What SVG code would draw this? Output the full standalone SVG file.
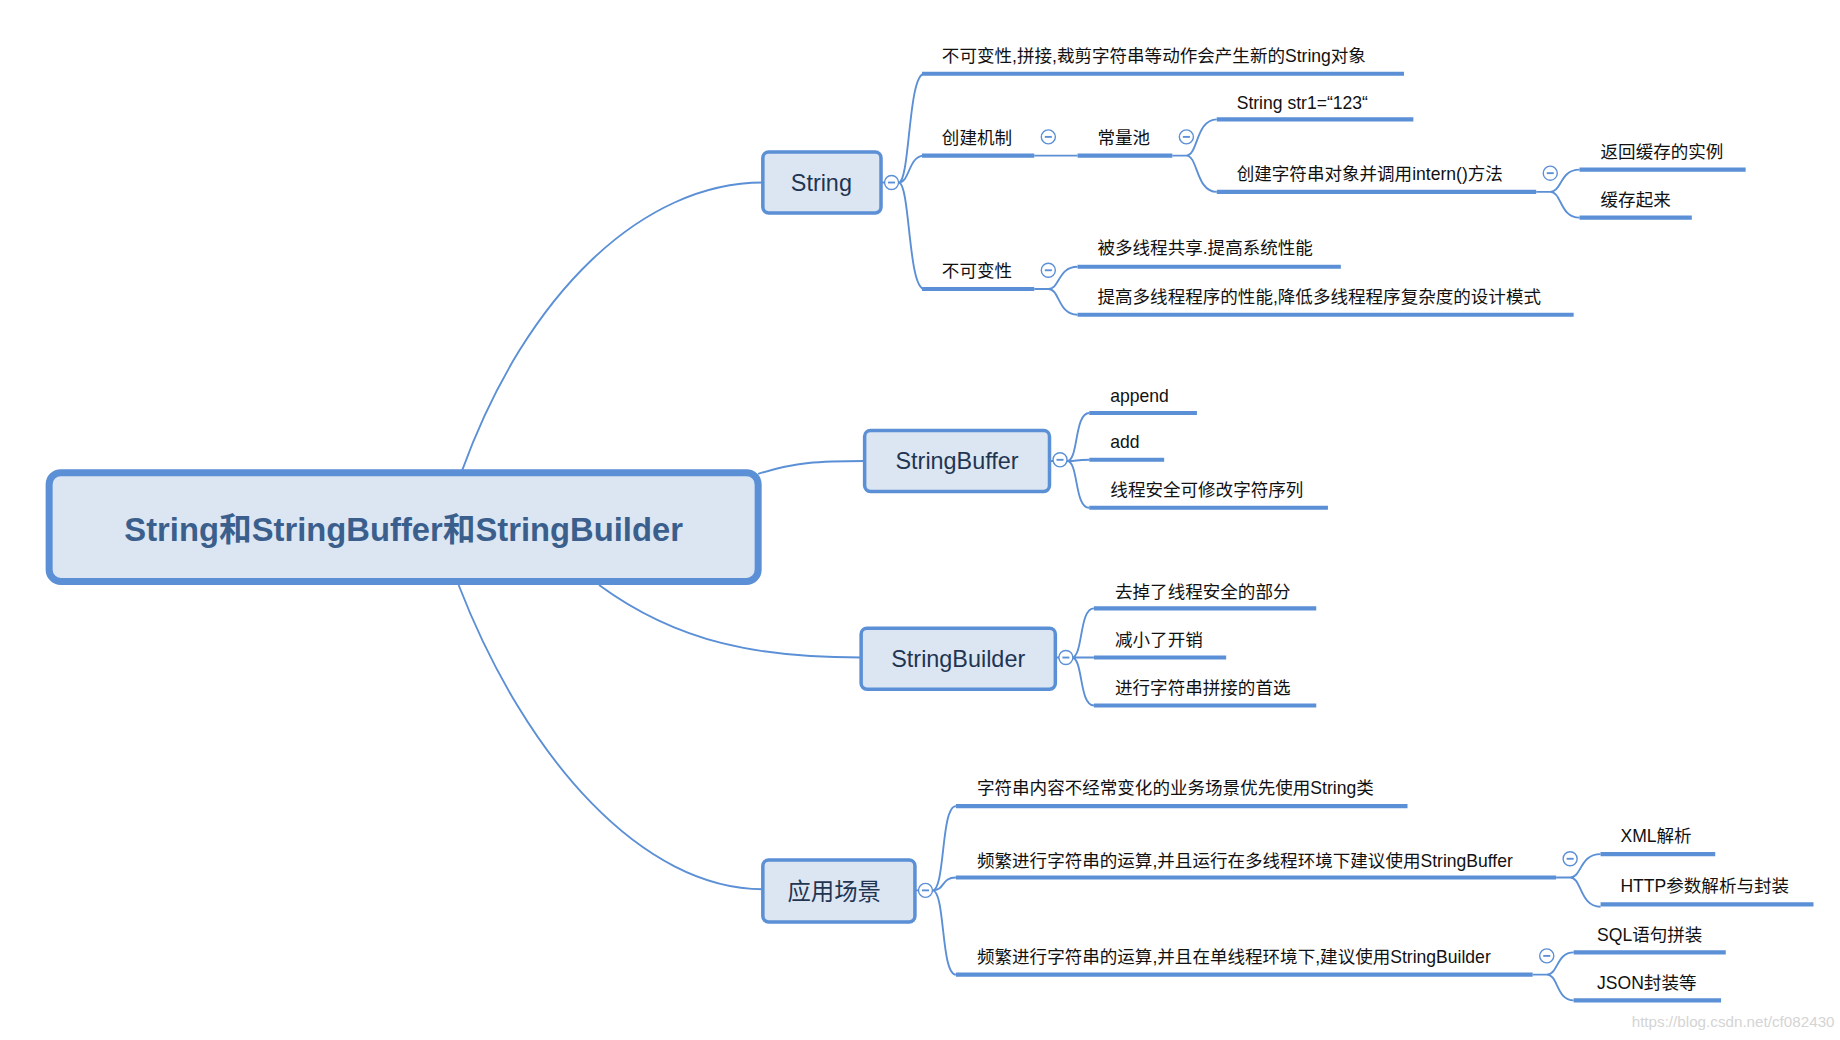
<svg xmlns="http://www.w3.org/2000/svg" width="1840" height="1040" viewBox="0 0 1840 1040">
<style>
text{font-family:"Liberation Sans","Noto Sans CJK SC",sans-serif;fill:#111}
.lf{font-size:15px}
.ul{stroke:#5b8fd6;stroke-width:3.5}
.c{fill:none;stroke:#5b8fd6;stroke-width:1.6}
.nd{fill:#dce6f2;stroke:#5b8fd6;stroke-width:3}
.nt{font-size:20px;fill:#1f3552;text-anchor:middle}
.tg{fill:#fff;stroke:#5b8fd6;stroke-width:1.2}
</style>
<rect width="1840" height="1040" fill="#fff"/>
<g transform="scale(1.17)">
<g id="connectors">
<path class="c" d="M395,402 C450,250 550,156 652,156"/>
<path class="c" d="M648,405 C680,395 700,394 739,394"/>
<path class="c" d="M512,500 C580,550 650,562 736,562"/>
<path class="c" d="M392,500 C450,650 550,760 652,760"/>
<path class="c" d="M753,156H768 M768,156 C778,156 776,63 790,63 M768,156 C778,156 776,133 790,133 M768,156 C778,156 776,247 790,247"/>
<path class="c" d="M884,133H921 M1002,133H1014 M1014,133 C1024,133 1022,102 1040,102 M1014,133 C1024,133 1022,164 1040,164"/>
<path class="c" d="M1313,164H1325 M1325,164 C1335,164 1333,145 1350,145 M1325,164 C1335,164 1333,186 1350,186"/>
<path class="c" d="M884,247H896 M896,247 C906,247 904,228 921,228 M896,247 C906,247 904,269 921,269"/>
<path class="c" d="M897,394H912 M912,394 C922,394 918,353 931,353 M912,394 C922,394 918,393 931,393 M912,394 C922,394 918,434 931,434"/>
<path class="c" d="M902,562H916 M916,562 C926,562 922,520 935,520 M916,562 C926,562 922,562 935,562 M916,562 C926,562 922,603 935,603"/>
<path class="c" d="M782,761H797 M797,761 C808,761 804,689 817,689 M797,761 C808,761 804,750 817,750 M797,761 C808,761 804,833 817,833"/>
<path class="c" d="M1330,750H1342 M1342,750 C1352,750 1350,730 1368,730 M1342,750 C1352,750 1350,775 1368,775"/>
<path class="c" d="M1310,833H1322 M1322,833 C1332,833 1330,814 1345,814 M1322,833 C1332,833 1330,855 1345,855"/>
</g>
<g id="root"><rect x="42" y="404" width="606" height="93" rx="10" fill="#dce6f2" stroke="#5b8fd6" stroke-width="6"/><text x="345" y="462" text-anchor="middle" font-size="28" font-weight="bold" style="fill:#3b5f8c">String和StringBuffer和StringBuilder</text></g>
<g id="n-string"><rect class="nd" x="652" y="130" width="101" height="52" rx="5"/><text class="nt" x="702" y="163">String</text></g>
<g id="n-buffer"><rect class="nd" x="739" y="368" width="158" height="52" rx="5"/><text class="nt" x="818" y="401">StringBuffer</text></g>
<g id="n-builder"><rect class="nd" x="736" y="537" width="166" height="52" rx="5"/><text class="nt" x="819" y="570">StringBuilder</text></g>
<g id="n-scene"><rect class="nd" x="652" y="735" width="130" height="53" rx="5"/><text class="nt" x="713" y="769">应用场景</text></g>
<g id="toggles">
<g><circle class="tg" cx="762" cy="156" r="6"/><path class="c" d="M759,156h6"/></g>
<g><circle class="tg" cx="906" cy="393" r="6"/><path class="c" d="M903,393h6"/></g>
<g><circle class="tg" cx="911" cy="562" r="6"/><path class="c" d="M908,562h6"/></g>
<g><circle class="tg" cx="791" cy="761" r="6"/><path class="c" d="M788,761h6"/></g>
<g><circle class="tg" cx="896" cy="117" r="6"/><path class="c" d="M893,117h6"/></g>
<g><circle class="tg" cx="1014" cy="117" r="6"/><path class="c" d="M1011,117h6"/></g>
<g><circle class="tg" cx="1325" cy="148" r="6"/><path class="c" d="M1322,148h6"/></g>
<g><circle class="tg" cx="896" cy="231" r="6"/><path class="c" d="M893,231h6"/></g>
<g><circle class="tg" cx="1342" cy="734" r="6"/><path class="c" d="M1339,734h6"/></g>
<g><circle class="tg" cx="1322" cy="817" r="6"/><path class="c" d="M1319,817h6"/></g>
</g>
<g id="leaves">
<g><text class="lf" x="805" y="53">不可变性,拼接,裁剪字符串等动作会产生新的String对象</text><path class="ul" d="M788,63H1200"/></g>
<g><text class="lf" x="805" y="123">创建机制</text><path class="ul" d="M788,133H884"/></g>
<g><text class="lf" x="938" y="123">常量池</text><path class="ul" d="M921,133H1002"/></g>
<g><text class="lf" x="1057" y="93">String str1=“123“</text><path class="ul" d="M1040,102H1208"/></g>
<g><text class="lf" x="1057" y="154">创建字符串对象并调用intern()方法</text><path class="ul" d="M1040,164H1313"/></g>
<g><text class="lf" x="1368" y="135">返回缓存的实例</text><path class="ul" d="M1350,145H1492"/></g>
<g><text class="lf" x="1368" y="176">缓存起来</text><path class="ul" d="M1350,186H1446"/></g>
<g><text class="lf" x="805" y="237">不可变性</text><path class="ul" d="M788,247H884"/></g>
<g><text class="lf" x="938" y="217">被多线程共享.提高系统性能</text><path class="ul" d="M921,228H1146"/></g>
<g><text class="lf" x="938" y="259">提高多线程程序的性能,降低多线程程序复杂度的设计模式</text><path class="ul" d="M921,269H1345"/></g>
<g><text class="lf" x="949" y="344">append</text><path class="ul" d="M931,353H1023"/></g>
<g><text class="lf" x="949" y="383">add</text><path class="ul" d="M931,393H995"/></g>
<g><text class="lf" x="949" y="424">线程安全可修改字符序列</text><path class="ul" d="M931,434H1135"/></g>
<g><text class="lf" x="953" y="511">去掉了线程安全的部分</text><path class="ul" d="M935,520H1125"/></g>
<g><text class="lf" x="953" y="552">减小了开销</text><path class="ul" d="M935,562H1048"/></g>
<g><text class="lf" x="953" y="593">进行字符串拼接的首选</text><path class="ul" d="M935,603H1125"/></g>
<g><text class="lf" x="835" y="679">字符串内容不经常变化的业务场景优先使用String类</text><path class="ul" d="M817,689H1203"/></g>
<g><text class="lf" x="835" y="741">频繁进行字符串的运算,并且运行在多线程环境下建议使用StringBuffer</text><path class="ul" d="M817,750H1330"/></g>
<g><text class="lf" x="835" y="823">频繁进行字符串的运算,并且在单线程环境下,建议使用StringBuilder</text><path class="ul" d="M817,833H1310"/></g>
<g><text class="lf" x="1385" y="720">XML解析</text><path class="ul" d="M1368,730H1466"/></g>
<g><text class="lf" x="1385" y="762">HTTP参数解析与封装</text><path class="ul" d="M1368,773H1550"/></g>
<g><text class="lf" x="1365" y="804">SQL语句拼装</text><path class="ul" d="M1345,814H1475"/></g>
<g><text class="lf" x="1365" y="845">JSON封装等</text><path class="ul" d="M1345,855H1471"/></g>
</g>
<text x="1568" y="878" font-size="13" text-anchor="end" style="fill:#d4d4d4">https://blog.csdn.net/cf082430</text>
</g>
</svg>
